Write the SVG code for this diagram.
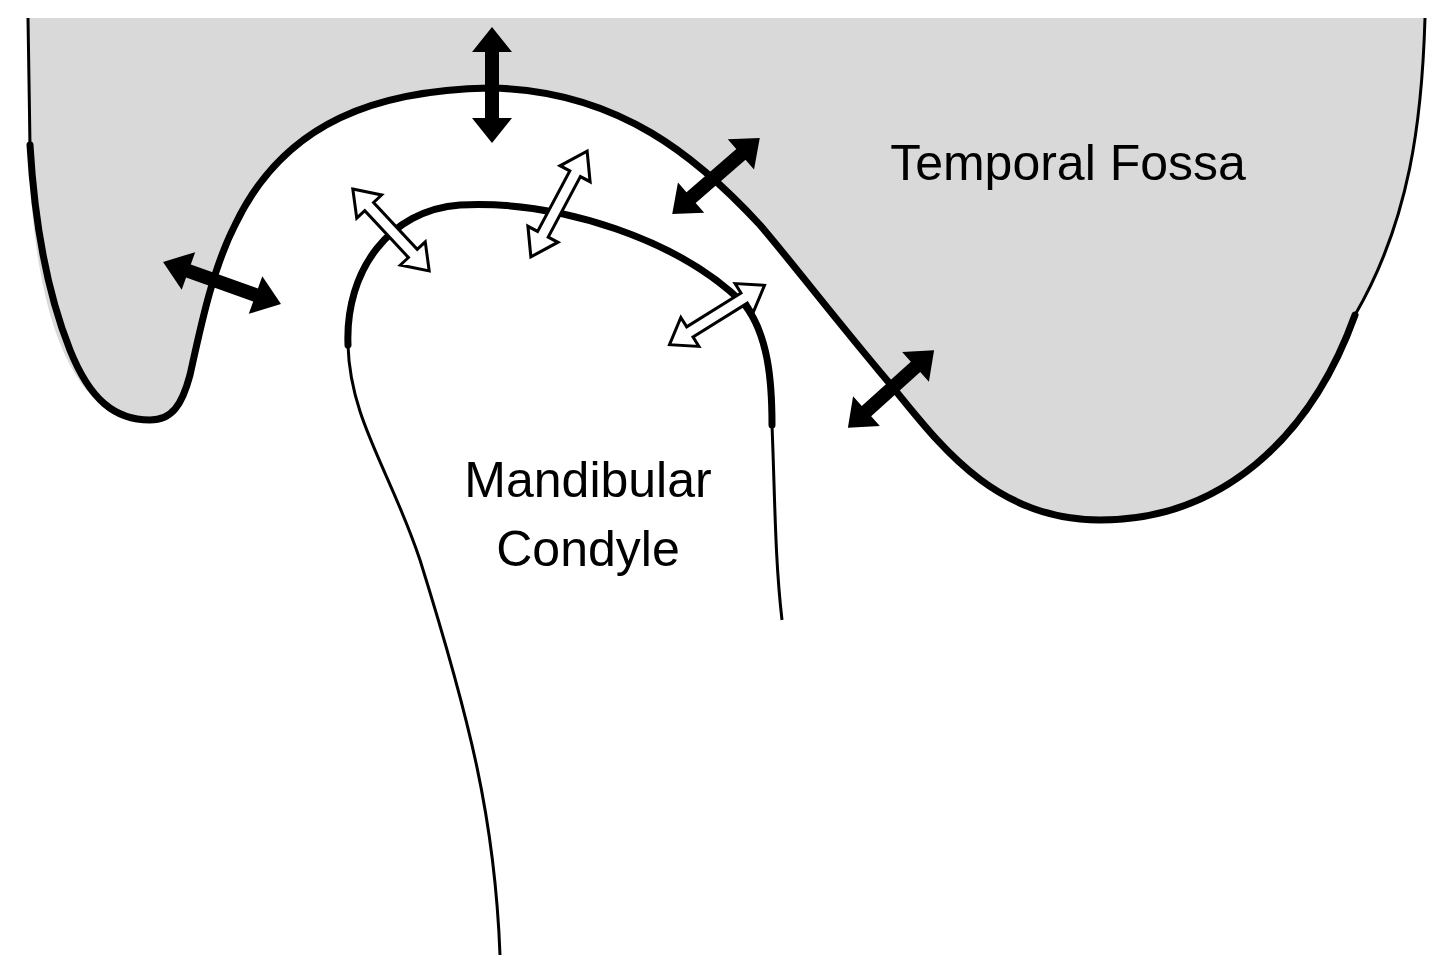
<svg xmlns="http://www.w3.org/2000/svg" width="1437" height="956" viewBox="0 0 1437 956">
<style>
.fossa{fill:#d9d9d9;stroke:none}
.edge{fill:none;stroke:#000;stroke-width:7;stroke-linecap:round}
.thin{fill:none;stroke:#000;stroke-width:3}
.blk{fill:#000}
.wht{fill:#fff;stroke:#000;stroke-width:3;stroke-linejoin:miter}
text{font-family:"Liberation Sans",Arial,sans-serif;font-size:50px;fill:#000}
</style>
<defs>
<polygon id="dbl" points="-58,0 -33,-20 -33,-7 33,-7 33,-20 58,0 33,20 33,7 -33,7 -33,20"/>
<polygon id="dblw" points="-56,0 -32,-17 -32,-6 32,-6 32,-17 56,0 32,17 32,6 -32,6 -32,17"/>
</defs>
<rect width="1437" height="956" fill="#fff"/>
<g id="fossa">
<path class="fossa" d="M28,18 L1425,18 C1420,150 1400,250 1355,315 C1300,440 1220,520 1100,520 C980,520 930,430 880,370 C820,300 780,250 760,230 C700,160 620,95 490,88 C380,90 280,120 235,230 C215,280 200,330 190,380 C182,410 170,420 150,420 C110,418 80,400 55,330 C35,270 30,200 28,140 Z"/>
<path class="thin" d="M28,18 L30,145 M1425,18 C1422,120 1410,220 1355,315"/>
<path class="edge" d="M30,145 C35,230 50,300 70,350 C90,400 115,420 150,420 C172,420 182,405 190,375 C200,330 212,270 235,225 C285,120 380,90 490,88 C620,90 700,160 760,225 C790,260 820,300 880,372 C930,430 985,520 1100,520 C1220,520 1310,440 1355,315"/>
</g>
<g id="condyle">
<path class="thin" d="M500,955 C495,820 470,720 420,560 C390,470 350,420 348,345"/>
<path class="edge" d="M348,345 C345,270 390,210 460,205 C560,200 680,240 745,305 C768,335 772,380 772,425"/>
<path class="thin" d="M772,425 C775,500 775,560 782,620"/>
</g>
<g id="arrows">
<use href="#dbl" class="blk" transform="translate(492,85) rotate(90)"/>
<use href="#dbl" class="blk" transform="translate(222,283) rotate(19.7) scale(1.08,1)"/>
<use href="#dbl" class="blk" transform="translate(716,176) rotate(-41)"/>
<use href="#dbl" class="blk" transform="translate(891,389) rotate(-42)"/>
<use href="#dblw" class="wht" transform="translate(391,230) rotate(47)"/>
<use href="#dblw" class="wht" transform="translate(559,204) rotate(-62) scale(1.07,1)"/>
<use href="#dblw" class="wht" transform="translate(717,315) rotate(-32)"/>
</g>
<g id="labels">
<text x="1068" y="180" text-anchor="middle">Temporal Fossa</text>
<text x="588" y="497" text-anchor="middle">Mandibular</text>
<text x="588" y="566" text-anchor="middle">Condyle</text>
</g>
</svg>
